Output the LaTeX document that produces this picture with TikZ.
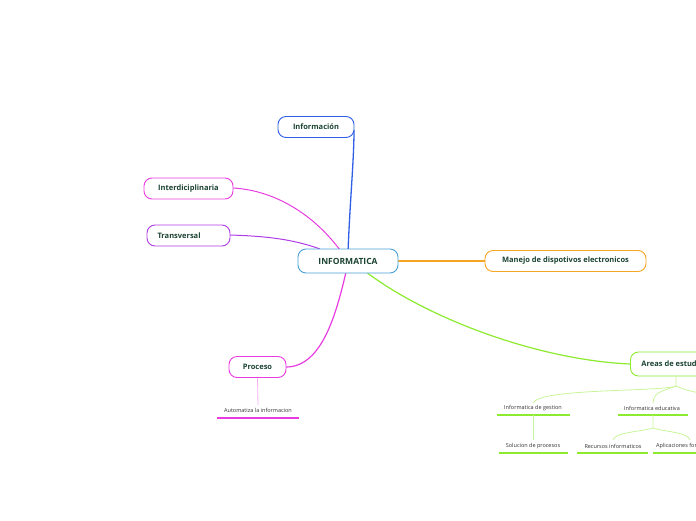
\documentclass[tikz,border=0pt]{standalone}
\usepackage{fontspec}
\setmainfont{Open Sans}
\begin{document}
\begin{tikzpicture}[x=1pt,y=-1pt,
 topic/.style={draw,line width=0.9pt,rounded corners=8pt,fill=white,text=txt,font=\bfseries\fontsize{7.5}{8}\selectfont,minimum height=21pt,inner xsep=8pt},
 sub/.style={text=black!80,font=\fontsize{5.5}{6}\selectfont,inner sep=1pt},
 ul/.style={line width=1.2pt}]
\definecolor{txt}{HTML}{1B4332}
\definecolor{cblue}{HTML}{2F5FE6}
\definecolor{cmag}{HTML}{E83CE0}
\definecolor{cpur}{HTML}{B03CE6}
\definecolor{corg}{HTML}{F5A623}
\definecolor{cgrn}{HTML}{8CEB2E}
\definecolor{cgrnl}{HTML}{C8F59A}
\definecolor{cmain}{HTML}{4A9FD8}
\useasboundingbox (0,0) rectangle (696,520);
\clip (0,0) rectangle (696,520);
\coordinate (c) at (348,261);
\draw[cblue,line width=1.3pt] (348,252) .. controls (350,200) and (354,160) .. (354,130);
\draw[cmag,line width=1pt] (340,250) .. controls (310,210) and (270,190) .. (233,188);
\draw[cpur,line width=1pt] (320,249) .. controls (290,238) and (260,236) .. (230,235);
\draw[corg,line width=1.2pt] (398,261) -- (485,261);
\draw[cmag,line width=1.2pt] (346,272) .. controls (335,320) and (320,367) .. (286,367);
\draw[cgrn,line width=1.2pt] (366,272) .. controls (430,320) and (540,360) .. (630,364);
\node[topic,draw=cmain,font=\bfseries\fontsize{8.5}{9}\selectfont,minimum width=100pt,minimum height=24pt] (main) at (348,261) {INFORMATICA};
\node[topic,draw=cblue,minimum width=76pt] (inf) at (316,127) {Información};
\node[topic,draw=cmag,minimum width=89pt] (inter) at (188.5,188.5) {Interdiciplinaria};
\node[topic,draw=cpur,minimum width=83pt,align=left,text width=62pt] (trans) at (188.5,235.5) {Transversal};
\node[topic,draw=corg,minimum width=161pt] (man) at (565.5,261) {Manejo de dispotivos electronicos};
\node[topic,draw=cmag,minimum width=57pt] (proc) at (257.5,367) {Proceso};
\node[topic,draw=cgrn,anchor=west,minimum height=24pt,inner xsep=11pt] (areas) at (630,364) {Areas de estudio};
\node[sub] (auto) at (258,410) {Automatiza la informacion};
\draw[cmag,ul] (217,418) -- (299,418);
\draw[cmag!40,line width=0.8pt] (proc.south) -- (258,405);
\node[sub] (ig) at (533,408) {Informatica de gestion};
\draw[cgrn,ul] (497,415) -- (570,415);
\node[sub] (ie) at (652,408) {Informatica educativa};
\draw[cgrn,ul] (618,415) -- (688,415);
\draw[cgrnl,line width=0.8pt] (676,376) -- (676,386) .. controls (660,392) and (540,388) .. (533,403);
\draw[cgrnl,line width=0.8pt] (676,386) .. controls (660,392) and (654,392) .. (653,403);
\draw[cgrnl,line width=0.8pt] (676,386) .. controls (690,392) and (696,392) .. (710,395);
\node[sub] (sp) at (533,446) {Solucion de procesos};
\draw[cgrn,ul] (499,453) -- (568,453);
\draw[cgrnl,line width=0.8pt] (533,415) -- (533,440);
\node[sub] (ri) at (613,446) {Recursos informaticos};
\draw[cgrn,ul] (577,453) -- (648,453);
\node[sub,anchor=west] (af) at (655,446) {Aplicaciones formativas};
\draw[cgrn,ul] (653,453) -- (700,453);
\draw[cgrnl,line width=0.8pt] (653,415) -- (653,428) .. controls (640,432) and (615,432) .. (613,440);
\draw[cgrnl,line width=0.8pt] (653,428) .. controls (665,432) and (688,432) .. (690,440);
\end{tikzpicture}
\end{document}
